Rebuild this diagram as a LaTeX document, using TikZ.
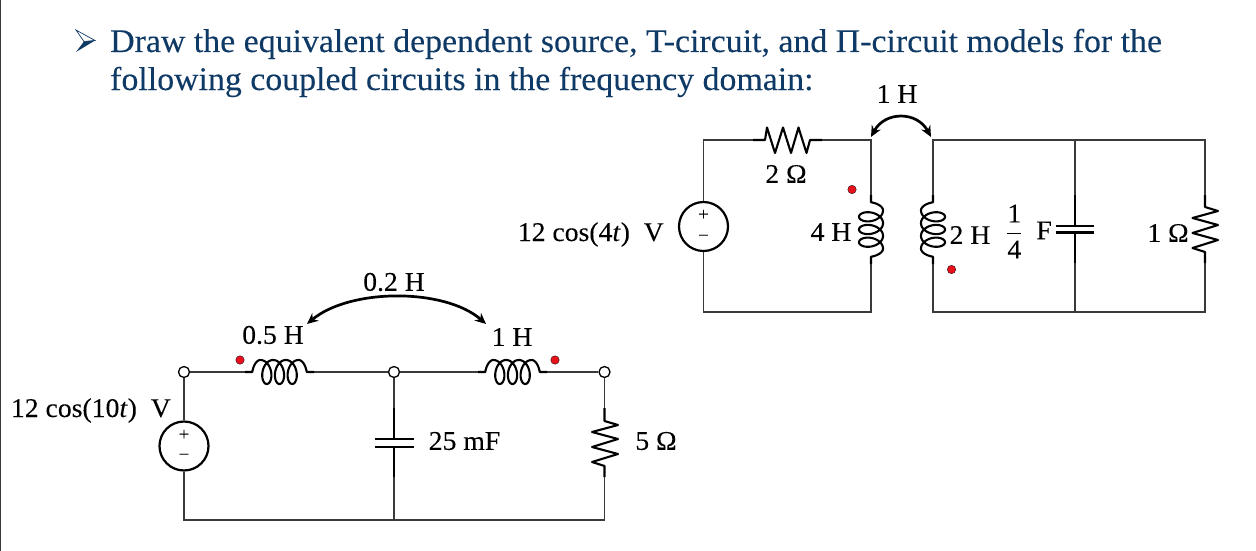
\documentclass[tikz,border=0pt]{standalone}
\usepackage{fontspec}
\setmainfont[FakeStretch=1.026,FakeBold=0.12]{Liberation Serif}
\usetikzlibrary{arrows.meta}
\definecolor{navy}{HTML}{0F3A66}
\definecolor{wirec}{HTML}{3A3A3A}
\definecolor{dotred}{HTML}{E8101A}
\newcommand{\ckt}{\fontsize{27}{30}\selectfont}
\tikzset{
  x=1pt,y=-1pt,
  wire/.style={draw=wirec,line width=1.4pt},
  comp/.style={draw=black,line width=2.1pt,line join=round},
  term/.style={circle,draw=black,fill=white,line width=1.3pt,inner sep=0pt,minimum size=11pt},
  vsource/.style={circle,draw=black,fill=white,line width=2.2pt,inner sep=0pt,minimum size=49pt},
  reddot/.style={circle,fill=dotred,draw=black,line width=.3pt,inner sep=0pt,minimum size=8.5pt},
  lab/.style={inner sep=0pt,font=\ckt,text=black},
  sign/.style={inner sep=0pt,font=\fontsize{18}{18}\selectfont},
  title/.style={inner sep=0pt,anchor=base west,text=navy,font=\fontsize{33}{36}\selectfont},
  mut/.style={draw=black,line width=2.7pt,{Stealth[length=11pt,width=10pt]}-{Stealth[length=11pt,width=10pt]}}
}
% coil: terminal a, terminal b, centre x, y, along vector, hump vector
\newcommand{\coilu}{(12.7*(\t-540)/360+((\t<0||\t>1080)?5:7.5)*sin(\t))}
\newcommand{\coil}[8]{%
  \draw[comp] (#1) -- plot[domain=-90:1170,samples=211,variable=\t]
   ({#3+(#5)*\coilu+(#7)*(-12*cos(\t))},
    {#4+(#6)*\coilu+(#8)*(-12*cos(\t))}) -- (#2);}
\begin{document}
\begin{tikzpicture}
\useasboundingbox (0,0) rectangle (1256,551);
\fill[white] (0,0) rectangle (1256,551);
\draw[wirec,line width=2pt] (0,0) -- (0,551);
% bullet
\filldraw[fill=white,draw=navy,line width=.7pt] (76,30) -- (95,40.5) -- (84,41.5) -- cycle;
\fill[navy] (84,41.5) -- (95,40.5) -- (76,52) -- cycle;
% title
\node[title] (t1) at (110,52) {Draw the equivalent dependent source, T-circuit, and Π-circuit models for the};
\node[title] (t2) at (110,90) {following coupled circuits in the frequency domain:};

% ---------- lower circuit ----------
\node[term] (A) at (184,372) {};
\node[term] (B) at (394,372) {};
\node[term] (C) at (604.5,372) {};
\node[vsource] (S1) at (184,446) {};
\node[sign] (S1p) at (184,435) {+};
\node[sign] (S1m) at (184,457) {−};
\coordinate (L1a) at (245,372); \coordinate (L1b) at (314,372);
\coordinate (L2a) at (478,372); \coordinate (L2b) at (547,372);
\coordinate (C1a) at (394,408); \coordinate (C1t) at (394,439);
\coordinate (C1u) at (394,447); \coordinate (C1b) at (394,477);
\coordinate (R1a) at (604.5,408); \coordinate (R1b) at (604.5,477);
\coordinate (G1) at (184,520); \coordinate (G2) at (394,520); \coordinate (G3) at (604.5,520);
\draw[wire] (A) -- (L1a) (L1b) -- (B) -- (L2a) (L2b) -- (C);
\draw[wire] (A) -- (S1) (S1) -- (G1) -- (G2) -- (G3) -- (R1b) (R1a) -- (C);
\draw[wire] (B) -- (C1a) (C1b) -- (G2);
\coil{L1a}{L1b}{279.5}{372}{1}{0}{0}{1}
\coil{L2a}{L2b}{512.5}{372}{1}{0}{0}{1}
\draw[comp] (C1a) -- (C1t) (C1u) -- (C1b);
\draw[comp] (375,439) -- (413.5,439) (375,447) -- (413.5,447);
\draw[comp] (R1a) -- (604.5,421) -- (618,425) -- (592,432) -- (618,439) -- (592,447) -- (618,454) -- (592,462) -- (604.5,466) -- (R1b);
\node[reddot] (D1) at (240,360) {};
\node[reddot] (D2) at (555,360) {};
\coordinate (M1a) at (307,324); \coordinate (M1b) at (486,324);
\draw[mut] (M1a) .. controls (350,288) and (445,288) .. (M1b);
\node[lab] (l02) at (394,282) {0.2 H};
\node[lab] (l05) at (273,335) {0.5 H};
\node[lab] (l1) at (512,337) {1 H};
\node[lab] (l25) at (464.5,441) {25 mF};
\node[lab] (l5) at (656,441) {5 Ω};
\node[lab,anchor=base east] (lv1) at (171,417) {12 cos(10\textit{t}) \ V};

% ---------- upper circuit ----------
\node[vsource] (S2) at (703.5,226.5) {};
\node[sign] (S2p) at (703.5,215) {+};
\node[sign] (S2m) at (703.5,238) {−};
\coordinate (P1) at (703.5,140); \coordinate (P2) at (871,140); \coordinate (P3) at (871,312); \coordinate (P4) at (703.5,312);
\coordinate (R2a) at (753,140); \coordinate (R2b) at (822,140);
\coordinate (L3a) at (871,195); \coordinate (L3b) at (871,264);
\coordinate (L4a) at (933,195); \coordinate (L4b) at (933,264);
\coordinate (Q1) at (933,140); \coordinate (Q2) at (1075,140); \coordinate (Q3) at (1205,140);
\coordinate (Q4) at (1205,312); \coordinate (Q5) at (1075,312); \coordinate (Q6) at (933,312);
\coordinate (C2a) at (1075,195); \coordinate (C2t) at (1075,226); \coordinate (C2u) at (1075,232); \coordinate (C2b) at (1075,263);
\coordinate (R3a) at (1205,195); \coordinate (R3b) at (1205,263);
\draw[wire] (S2) -- (P1) -- (R2a) (R2b) -- (P2) -- (L3a) (L3b) -- (P3) -- (P4) -- (S2);
\draw[wire] (L4a) -- (Q1) -- (Q2) -- (Q3) -- (R3a) (R3b) -- (Q4) -- (Q5) -- (Q6) -- (L4b);
\draw[wire] (Q2) -- (C2a) (C2b) -- (Q5);
\draw[comp] (R2a) -- (765,140) -- (767,127.5) -- (775,153) -- (783,127.5) -- (791,153) -- (798.5,127.5) -- (806.5,153) -- (810,140) -- (R2b);
\coil{L3a}{L3b}{871}{229.5}{0}{1}{-1}{0}
\coil{L4a}{L4b}{933}{229.5}{0}{1}{1}{0}
\draw[comp] (C2a) -- (C2t) (C2u) -- (C2b);
\draw[comp] (1055.5,226) -- (1094,226) (1055.5,232.5) -- (1094,232.5);
\draw[comp] (R3a) -- (1205,207) -- (1218,211) -- (1192.5,218) -- (1218,225) -- (1192.5,233) -- (1218,240) -- (1192.5,248) -- (1205,252) -- (R3b);
\node[reddot] (D3) at (852,189.5) {};
\node[reddot] (D4) at (951.5,269.5) {};
\coordinate (M2a) at (871,137); \coordinate (M2b) at (931,137);
\draw[mut] (M2a) .. controls (885,111) and (917,111) .. (M2b);
\node[lab] (lm2) at (897,94) {1 H};
\node[lab] (lr2) at (786,174) {2 Ω};
\node[lab] (l4h) at (831,232) {4 H};
\node[lab] (l2h) at (970,235) {2 H};
\node[lab] (lc2) at (1029,231.5) {$\displaystyle\frac{\hbox{1}\rule[-6pt]{0pt}{0pt}}{\rule{0pt}{24pt}\hbox{4}}$\ \ F};
\node[lab] (lr3) at (1168,233) {1 Ω};
\node[lab,anchor=base east] (lv2) at (664,241) {12 cos(4\textit{t}) \ V};
\end{tikzpicture}
\end{document}
